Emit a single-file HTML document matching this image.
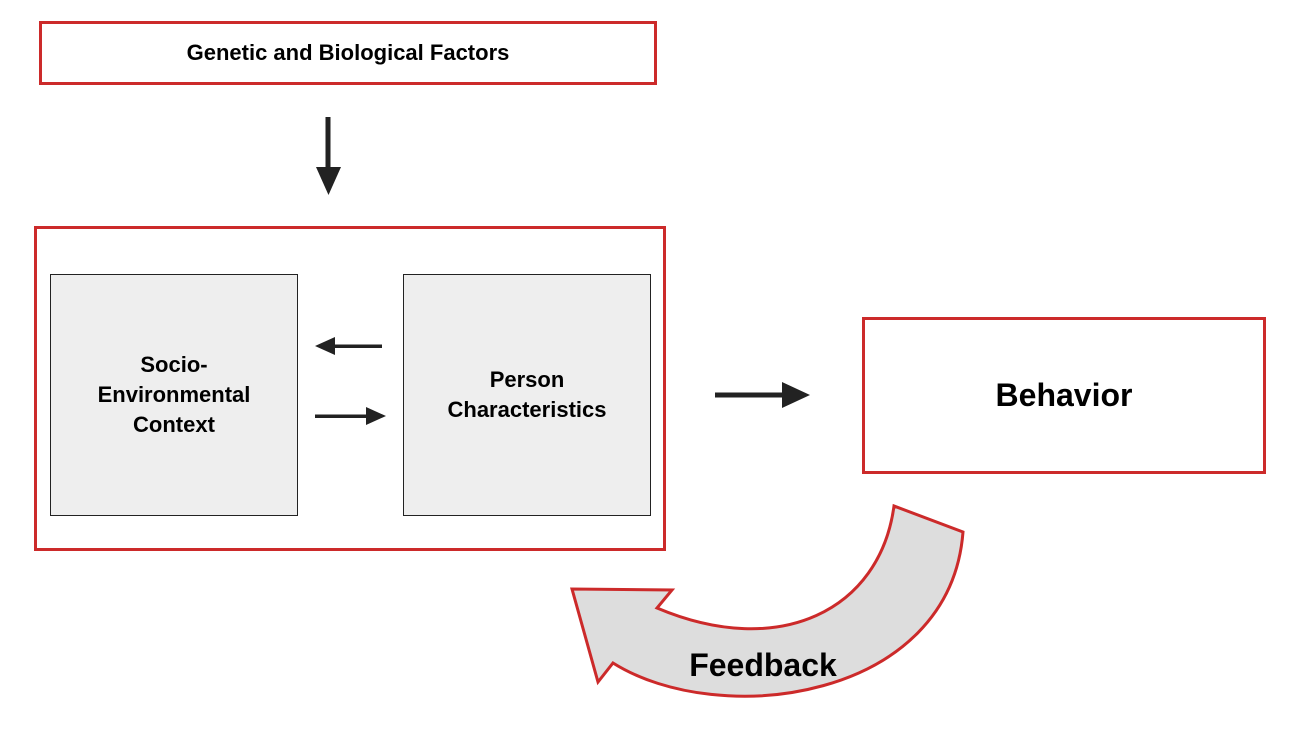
<!DOCTYPE html>
<html><head><style>
body{margin:0;width:1298px;height:736px;background:#fff;position:relative;overflow:hidden;font-family:"Liberation Sans",Arial,sans-serif;font-weight:bold;color:#000}
.b{position:absolute;box-sizing:border-box;display:flex;align-items:center;justify-content:center;text-align:center}
.r{border:3px solid #cc2a2a;background:#fff}
.g{border:1.5px solid #222;background:#eeeeee;font-size:22px;line-height:30px}
</style></head><body>
<div class="b r" style="left:39px;top:21px;width:618px;height:64px;font-size:22px">Genetic and Biological Factors</div>
<div class="b r" style="left:34px;top:226px;width:632px;height:325px"></div>
<div class="b g" style="left:50px;top:274px;width:248px;height:242px">Socio-<br>Environmental<br>Context</div>
<div class="b g" style="left:403px;top:274px;width:248px;height:242px">Person<br>Characteristics</div>
<div class="b r" style="left:862px;top:317px;width:404px;height:157px;font-size:32px">Behavior</div>
<svg width="1298" height="736" style="position:absolute;left:0;top:0">
<g fill="#222" stroke="none">
<rect x="325.5" y="117" width="5" height="52"/><polygon points="316,167 341,167 328.5,195"/>
<rect x="715" y="392.5" width="70" height="5"/><polygon points="782,382 782,408 810,395"/>
<rect x="333" y="344.5" width="49" height="3.5"/><polygon points="335,337 335,355 315,346"/>
<rect x="315" y="414.5" width="52" height="3.5"/><polygon points="366,407 366,425 386,416"/>
</g>
<path d="M894,506 C880,610 780,660 657,608 L672,590 L572,589 L598,682 L613,663 C720,730 950,700 963,532 Z" fill="#dddddd" stroke="#cc2a2a" stroke-width="3" stroke-linejoin="miter"/>
<text x="763" y="676" font-size="32" font-weight="bold" text-anchor="middle" font-family="Liberation Sans, Arial, sans-serif">Feedback</text>
</svg>
</body></html>
